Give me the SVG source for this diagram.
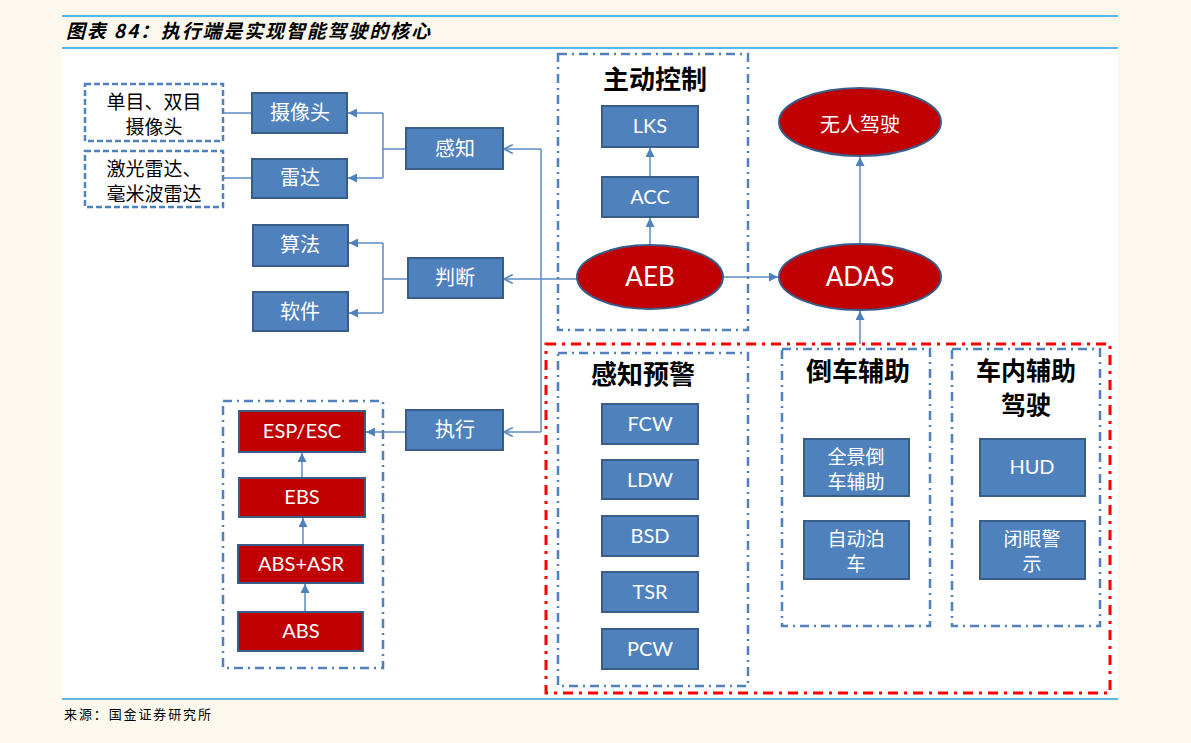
<svg xmlns="http://www.w3.org/2000/svg" width="1191" height="743" viewBox="0 0 1191 743">
<style>
.bx{fill:#4f81bd;stroke:#385d8a;stroke-width:2}
.rb{fill:#c00000;stroke:#385d8a;stroke-width:2}
.el{fill:#c00000;stroke:#385d8a;stroke-width:2}
.dd{fill:none;stroke:#4f81bd;stroke-width:2.5;stroke-dasharray:9 5 2 5}
.rd{fill:none;stroke:#ff0000;stroke-width:3;stroke-dasharray:10 6 3 6}
.ds{fill:none;stroke:#4f81bd;stroke-width:2.5;stroke-dasharray:6 3}
.cn{fill:none;stroke:#5b8ac6;stroke-width:1.5}
.zh{font-family:"Noto Sans CJK SC","Noto Sans",sans-serif;fill:#ffffff;font-size:20px;text-anchor:middle}
.z2{font-family:"Noto Sans CJK SC","Noto Sans",sans-serif;fill:#ffffff;font-size:19px;text-anchor:middle}
.zk{font-family:"Noto Sans CJK SC","Noto Sans",sans-serif;fill:#000000;font-size:19px;text-anchor:middle}
.hd{font-family:"Noto Sans CJK SC","Noto Sans",sans-serif;fill:#000000;font-size:26px;font-weight:bold;text-anchor:middle}
.h2{font-family:"Noto Sans CJK SC","Noto Sans",sans-serif;fill:#000000;font-size:25px;font-weight:bold;text-anchor:middle}
.en{font-family:Lato,"Open Sans",sans-serif;fill:#ffffff;font-size:20px;text-anchor:middle}
.eb{font-family:Lato,"Open Sans",sans-serif;fill:#ffffff;font-size:26px;text-anchor:middle}
</style>
<defs>
<marker id="tri" viewBox="0 0 10 10" refX="10" refY="5" markerWidth="9" markerHeight="9" markerUnits="userSpaceOnUse" orient="auto"><path d="M0,0 L10,5 L0,10 z" fill="#4f81bd"/></marker>
<marker id="opn" viewBox="0 0 10 10" refX="9" refY="5" markerWidth="11" markerHeight="11" markerUnits="userSpaceOnUse" orient="auto"><path d="M1,1 L9,5 L1,9" fill="none" stroke="#5b8ac6" stroke-width="1.5"/></marker>
</defs>
<rect x="0" y="0" width="1191" height="743" fill="#fcf8ee"/>
<rect x="62" y="48" width="1056" height="651" fill="#ffffff"/>
<line x1="62" y1="16" x2="1118" y2="16" stroke="#1fa3e8" stroke-width="1.5"/>
<line x1="62" y1="48" x2="1118" y2="48" stroke="#1fa3e8" stroke-width="1.5"/>
<line x1="62" y1="699" x2="1118" y2="699" stroke="#2a9fd6" stroke-width="1.5"/>
<text x="66" y="38" font-family="'Noto Sans CJK SC',sans-serif" font-size="19" font-style="italic" font-weight="bold" fill="#000" textLength="364" lengthAdjust="spacing">图表 84：执行端是实现智能驾驶的核心</text>
<text x="64" y="719" font-family="'Noto Sans CJK SC',sans-serif" font-size="13" fill="#000" textLength="147" lengthAdjust="spacing">来源：国金证券研究所</text>

<g id="connectors">
<path class="cn" d="M223,113 H252"/>
<path class="cn" d="M223,178 H252"/>
<path class="cn" d="M406,149 H383 M383,113 V178"/>
<path class="cn" d="M383,113 H348" marker-end="url(#tri)"/>
<path class="cn" d="M383,178 H348" marker-end="url(#tri)"/>
<path class="cn" d="M408,279 H383 M383,243 V313"/>
<path class="cn" d="M383,243 H349" marker-end="url(#tri)"/>
<path class="cn" d="M383,313 H349" marker-end="url(#tri)"/>
<path class="cn" d="M541,149 V432"/>
<path class="cn" d="M541,149 H504" marker-end="url(#opn)"/>
<path class="cn" d="M577,279 H504" marker-end="url(#opn)"/>
<path class="cn" d="M541,432 H504" marker-end="url(#opn)"/>
<path class="cn" d="M406,432 H366" marker-end="url(#tri)"/>
<path class="cn" d="M302,478 V453" marker-end="url(#tri)"/>
<path class="cn" d="M303,545 V518" marker-end="url(#tri)"/>
<path class="cn" d="M305,612 V584" marker-end="url(#tri)"/>
<path class="cn" d="M650,245 V218" marker-end="url(#tri)"/>
<path class="cn" d="M650,177 V148" marker-end="url(#tri)"/>
<path class="cn" d="M724,277 H778" marker-end="url(#tri)"/>
<path class="cn" d="M860,244 V157" marker-end="url(#tri)"/>
<path class="cn" d="M860,344 V311" marker-end="url(#tri)"/>
</g>

<g id="n-mono"><rect class="ds" x="85" y="84" width="138" height="57"/><text class="zk" x="154" y="109">单目、双目</text><text class="zk" x="154" y="134">摄像头</text></g>
<g id="n-lidar"><rect class="ds" x="85" y="151" width="138" height="56"/><text class="zk" x="154" y="176">激光雷达、</text><text class="zk" x="154" y="201">毫米波雷达</text></g>
<g id="n-camera"><rect class="bx" x="252" y="93" width="95" height="40"/><text class="zh" x="300" y="120">摄像头</text></g>
<g id="n-radar"><rect class="bx" x="252" y="159" width="95" height="39"/><text class="zh" x="300" y="185">雷达</text></g>
<g id="n-perceive"><rect class="bx" x="406" y="128" width="97" height="41"/><text class="zh" x="455" y="156">感知</text></g>
<g id="n-algo"><rect class="bx" x="253" y="225" width="95" height="41"/><text class="zh" x="300" y="252">算法</text></g>
<g id="n-soft"><rect class="bx" x="253" y="292" width="95" height="39"/><text class="zh" x="300" y="319">软件</text></g>
<g id="n-judge"><rect class="bx" x="408" y="258" width="95" height="40"/><text class="zh" x="455" y="285">判断</text></g>
<g id="n-exec"><rect class="bx" x="406" y="410" width="97" height="40"/><text class="zh" x="455" y="437">执行</text></g>

<g id="g-active"><rect class="dd" x="558" y="54" width="190" height="276"/><text class="hd" x="655" y="89">主动控制</text></g>
<g id="n-lks"><rect class="bx" x="602" y="106" width="96" height="41"/><text class="en" x="650" y="133">LKS</text></g>
<g id="n-acc"><rect class="bx" x="602" y="177" width="96" height="40"/><text class="en" x="650" y="204">ACC</text></g>
<g id="n-aeb"><ellipse class="el" cx="650" cy="277" rx="73" ry="32"/><text class="eb" x="650" y="286">AEB</text></g>
<g id="n-auto"><ellipse class="el" cx="860" cy="122" rx="81" ry="34"/><text class="zh" x="860" y="132">无人驾驶</text></g>
<g id="n-adas"><ellipse class="el" cx="860" cy="277" rx="81" ry="33"/><text class="eb" x="860" y="286">ADAS</text></g>

<g id="g-exec"><rect class="dd" x="223" y="401" width="160" height="267"/></g>
<g id="n-esp"><rect class="rb" x="239" y="411" width="126" height="41"/><text class="en" x="302" y="438">ESP/ESC</text></g>
<g id="n-ebs"><rect class="rb" x="239" y="478" width="126" height="39"/><text class="en" x="302" y="504">EBS</text></g>
<g id="n-absasr"><rect class="rb" x="238" y="545" width="125" height="38"/><text class="en" x="301" y="571">ABS+ASR</text></g>
<g id="n-abs"><rect class="rb" x="238" y="612" width="125" height="39"/><text class="en" x="301" y="638">ABS</text></g>

<g id="g-adas"><rect class="rd" x="546" y="344" width="564" height="349"/></g>
<g id="g-warn"><rect class="dd" x="558" y="353" width="190" height="333"/><text class="hd" x="643" y="384">感知预警</text></g>
<g id="n-fcw"><rect class="bx" x="602" y="404" width="96" height="40"/><text class="en" x="650" y="431">FCW</text></g>
<g id="n-ldw"><rect class="bx" x="602" y="460" width="96" height="39"/><text class="en" x="650" y="487">LDW</text></g>
<g id="n-bsd"><rect class="bx" x="602" y="516" width="96" height="40"/><text class="en" x="650" y="543">BSD</text></g>
<g id="n-tsr"><rect class="bx" x="602" y="572" width="96" height="40"/><text class="en" x="650" y="599">TSR</text></g>
<g id="n-pcw"><rect class="bx" x="602" y="629" width="96" height="40"/><text class="en" x="650" y="656">PCW</text></g>

<g id="g-reverse"><rect class="dd" x="782" y="349" width="148" height="277"/><text class="hd" x="858" y="381">倒车辅助</text></g>
<g id="n-pano"><rect class="bx" x="804" y="439" width="105" height="57"/><text class="z2" x="856" y="464">全景倒</text><text class="z2" x="856" y="489">车辅助</text></g>
<g id="n-park"><rect class="bx" x="804" y="521" width="105" height="58"/><text class="z2" x="856" y="546">自动泊</text><text class="z2" x="856" y="571">车</text></g>

<g id="g-cabin"><rect class="dd" x="952" y="349" width="148" height="277"/><text class="h2" x="1026" y="380">车内辅助</text><text class="h2" x="1026" y="414">驾驶</text></g>
<g id="n-hud"><rect class="bx" x="980" y="439" width="105" height="57"/><text class="en" x="1032" y="474">HUD</text></g>
<g id="n-eye"><rect class="bx" x="980" y="521" width="105" height="58"/><text class="z2" x="1032" y="546">闭眼警</text><text class="z2" x="1032" y="571">示</text></g>
</svg>
